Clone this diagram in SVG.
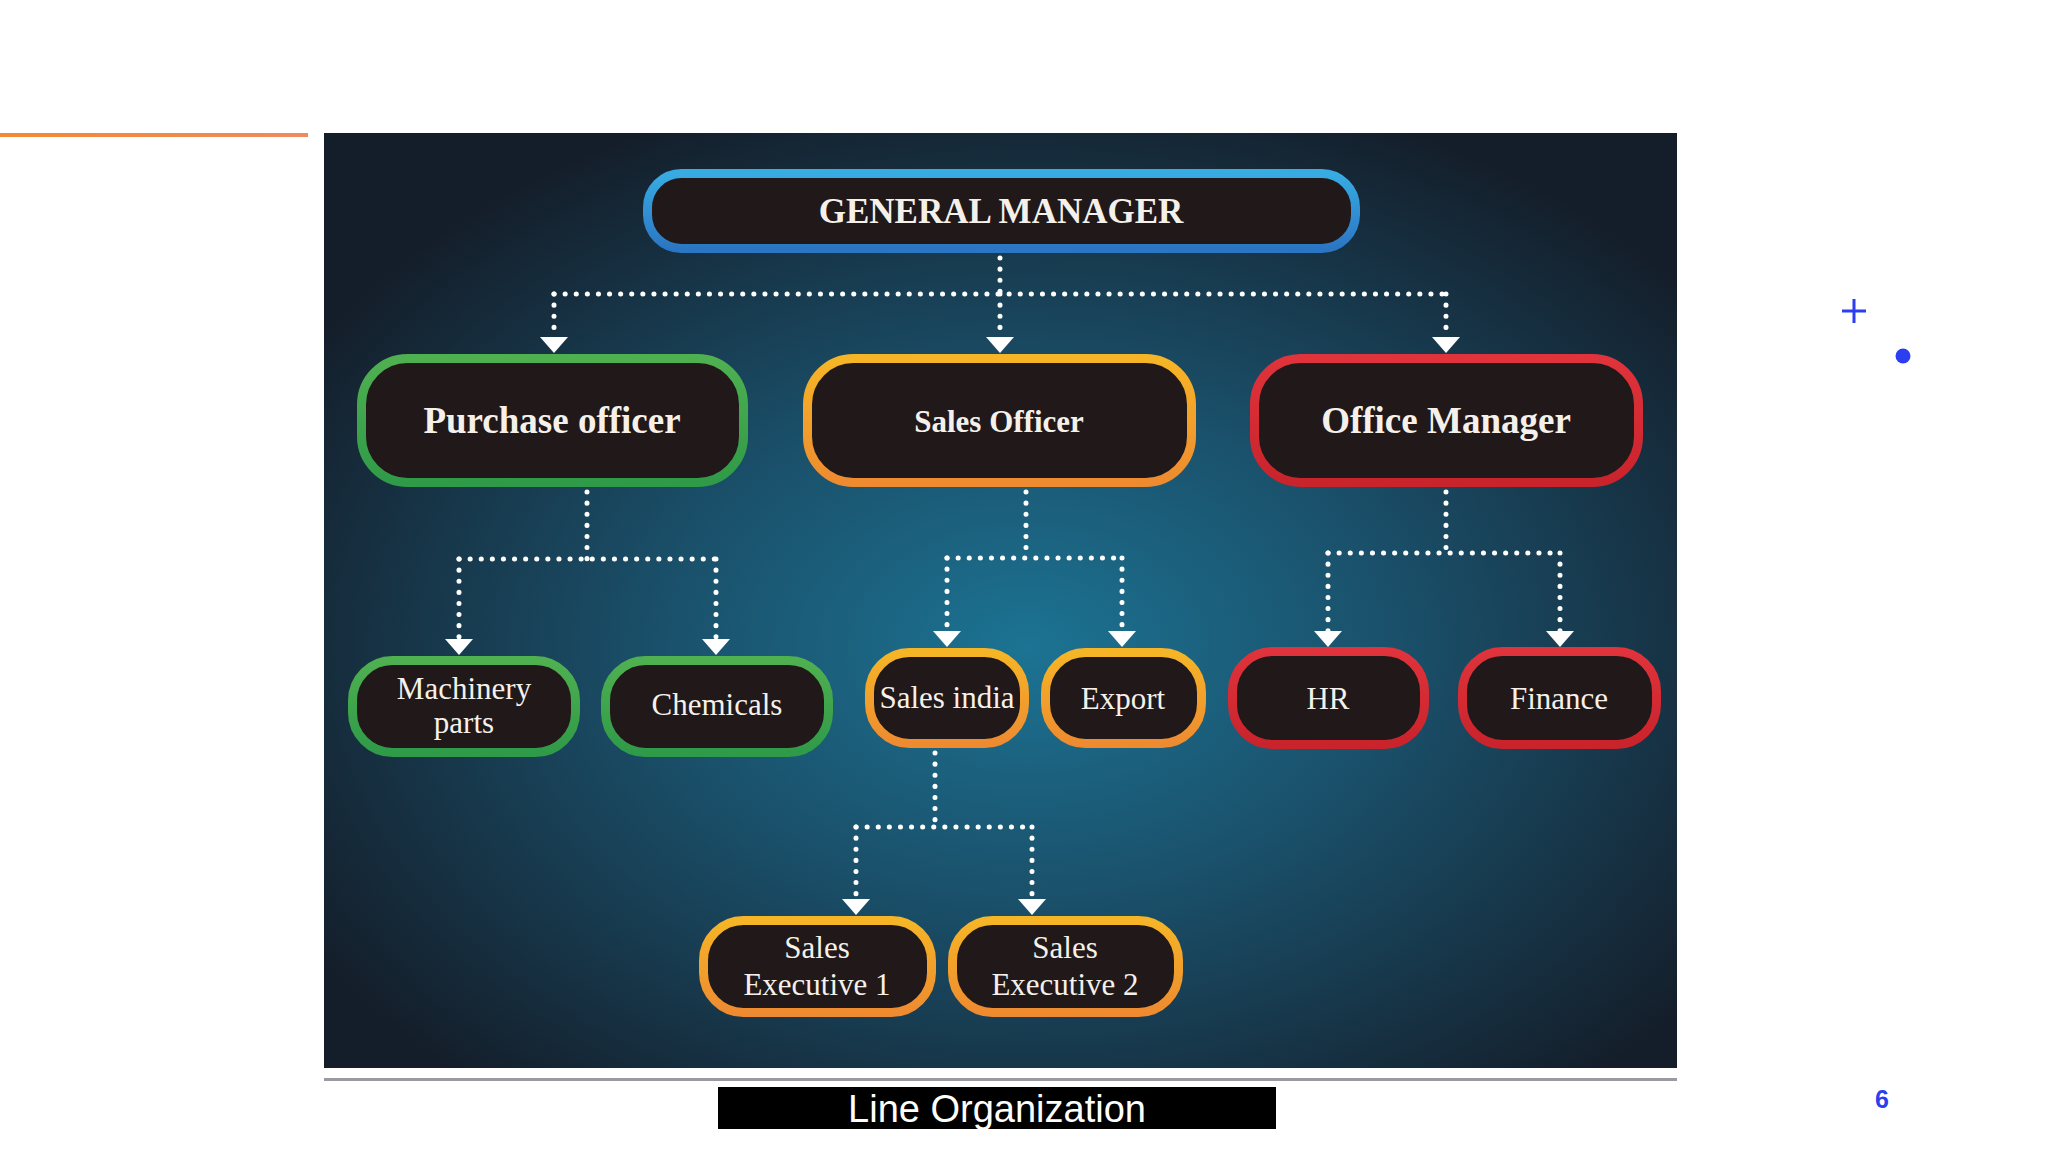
<svg xmlns="http://www.w3.org/2000/svg" width="2048" height="1152" viewBox="0 0 2048 1152">
<defs>
  <radialGradient id="bg" cx="0.52" cy="0.55" r="0.62">
    <stop offset="0" stop-color="#1c7393"/>
    <stop offset="0.45" stop-color="#1a4f69"/>
    <stop offset="1" stop-color="#141e2a"/>
  </radialGradient>
  <linearGradient id="gBlue" x1="0" y1="0" x2="0" y2="1">
    <stop offset="0" stop-color="#38ace2"/>
    <stop offset="1" stop-color="#2b76c4"/>
  </linearGradient>
  <linearGradient id="gGreen" x1="0" y1="0" x2="0" y2="1">
    <stop offset="0" stop-color="#4fb050"/>
    <stop offset="1" stop-color="#2f9a48"/>
  </linearGradient>
  <linearGradient id="gOrange" x1="0" y1="0" x2="0" y2="1">
    <stop offset="0" stop-color="#f6b526"/>
    <stop offset="1" stop-color="#ee8b30"/>
  </linearGradient>
  <linearGradient id="gRed" x1="0" y1="0" x2="0" y2="1">
    <stop offset="0" stop-color="#e0333b"/>
    <stop offset="1" stop-color="#c9232c"/>
  </linearGradient>
  <linearGradient id="gOrangeLine" x1="0" y1="0" x2="1" y2="0">
    <stop offset="0" stop-color="#f28a34"/>
    <stop offset="1" stop-color="#ee8a5e"/>
  </linearGradient>
  <marker id="arr" viewBox="0 -15 17 30" refX="0" refY="0" markerWidth="17" markerHeight="30" markerUnits="userSpaceOnUse" orient="auto">
    <path d="M0,-14 L16,0 L0,14 Z" fill="#ffffff"/>
  </marker>
</defs>
<style>
  .node rect { fill: #201819; stroke-width: 9; }
  .blue rect { stroke: url(#gBlue); }
  .green rect { stroke: url(#gGreen); }
  .orange rect { stroke: url(#gOrange); }
  .red rect { stroke: url(#gRed); }
  .node text { font-family: "Liberation Serif", "Times New Roman", serif; fill: #f5f1ea; text-anchor: middle; }
  .t1 { font-size: 35px; font-weight: bold; }
  .t2 { font-size: 37px; font-weight: bold; }
  .t3 { font-size: 31px; }
  .dot { fill: none; stroke: #ffffff; stroke-width: 5; stroke-linecap: round; stroke-dasharray: 0.1 11; }
  .drop { marker-end: url(#arr); }
</style>

<rect x="0" y="0" width="2048" height="1152" fill="#ffffff"/>
<rect x="0" y="133" width="308" height="4" fill="url(#gOrangeLine)"/>

<rect x="324" y="133" width="1353" height="935" fill="url(#bg)"/>
<rect x="324" y="1078" width="1353" height="3" fill="#9c9aa0"/>

<g id="connectors">
  <path class="dot" d="M1000,258 V294"/>
  <path class="dot" d="M554,294 H1446"/>
  <path class="dot drop" d="M554,294 V337"/>
  <path class="dot drop" d="M1000,294 V337"/>
  <path class="dot drop" d="M1446,294 V337"/>

  <path class="dot" d="M587,492 V559"/>
  <path class="dot" d="M459,559 H716"/>
  <path class="dot drop" d="M459,559 V639"/>
  <path class="dot drop" d="M716,559 V639"/>

  <path class="dot" d="M1026,492 V558"/>
  <path class="dot" d="M947,558 H1122"/>
  <path class="dot drop" d="M947,558 V631"/>
  <path class="dot drop" d="M1122,558 V631"/>

  <path class="dot" d="M1446,492 V553"/>
  <path class="dot" d="M1328,553 H1560"/>
  <path class="dot drop" d="M1328,553 V631"/>
  <path class="dot drop" d="M1560,553 V631"/>

  <path class="dot" d="M935,753 V827"/>
  <path class="dot" d="M856,827 H1032"/>
  <path class="dot drop" d="M856,827 V899"/>
  <path class="dot drop" d="M1032,827 V899"/>
</g>

<g id="general-manager" class="node blue">
  <rect x="647.5" y="173.5" width="708" height="75" rx="34"/>
  <text class="t1" x="1001" y="223">GENERAL MANAGER</text>
</g>

<g id="purchase-officer" class="node green">
  <rect x="361.5" y="358.5" width="382" height="124" rx="46"/>
  <text class="t2" x="552" y="433">Purchase officer</text>
</g>
<g id="sales-officer" class="node orange">
  <rect x="807.5" y="358.5" width="384" height="124" rx="46"/>
  <text class="t2" x="999" y="432" style="font-size:31px">Sales Officer</text>
</g>
<g id="office-manager" class="node red">
  <rect x="1254.5" y="358.5" width="384" height="124" rx="46"/>
  <text class="t2" x="1446" y="433">Office Manager</text>
</g>

<g id="machinery-parts" class="node green">
  <rect x="352.5" y="660.5" width="223" height="92" rx="40"/>
  <text class="t3" x="464" y="699">Machinery</text>
  <text class="t3" x="464" y="733">parts</text>
</g>
<g id="chemicals" class="node green">
  <rect x="605.5" y="660.5" width="223" height="92" rx="40"/>
  <text class="t3" x="717" y="715">Chemicals</text>
</g>
<g id="sales-india" class="node orange">
  <rect x="869.5" y="652.5" width="155" height="91" rx="40"/>
  <text class="t3" x="947" y="708">Sales india</text>
</g>
<g id="export" class="node orange">
  <rect x="1045.5" y="652.5" width="156" height="91" rx="40"/>
  <text class="t3" x="1123" y="709">Export</text>
</g>
<g id="hr" class="node red">
  <rect x="1232.5" y="651.5" width="192" height="93" rx="40"/>
  <text class="t3" x="1328" y="709">HR</text>
</g>
<g id="finance" class="node red">
  <rect x="1462.5" y="651.5" width="194" height="93" rx="40"/>
  <text class="t3" x="1559" y="709">Finance</text>
</g>

<g id="sales-executive-1" class="node orange">
  <rect x="703.5" y="920.5" width="228" height="92" rx="40"/>
  <text class="t3" x="817" y="958">Sales</text>
  <text class="t3" x="817" y="995">Executive 1</text>
</g>
<g id="sales-executive-2" class="node orange">
  <rect x="952.5" y="920.5" width="226" height="92" rx="40"/>
  <text class="t3" x="1065" y="958">Sales</text>
  <text class="t3" x="1065" y="995">Executive 2</text>
</g>

<g id="caption">
  <rect x="718" y="1087" width="558" height="42" fill="#000000"/>
  <text x="997" y="1122" font-family="Liberation Sans, Arial, sans-serif" font-size="38" fill="#ffffff" text-anchor="middle">Line Organization</text>
</g>

<g id="decor" fill="#2b3ff0">
  <rect x="1842" y="309.5" width="24" height="3"/>
  <rect x="1852.5" y="299" width="3" height="24"/>
  <circle cx="1903" cy="356" r="7.5"/>
  <text x="1882" y="1108" font-family="Liberation Sans, Arial, sans-serif" font-size="25" font-weight="bold" text-anchor="middle">6</text>
</g>
</svg>
